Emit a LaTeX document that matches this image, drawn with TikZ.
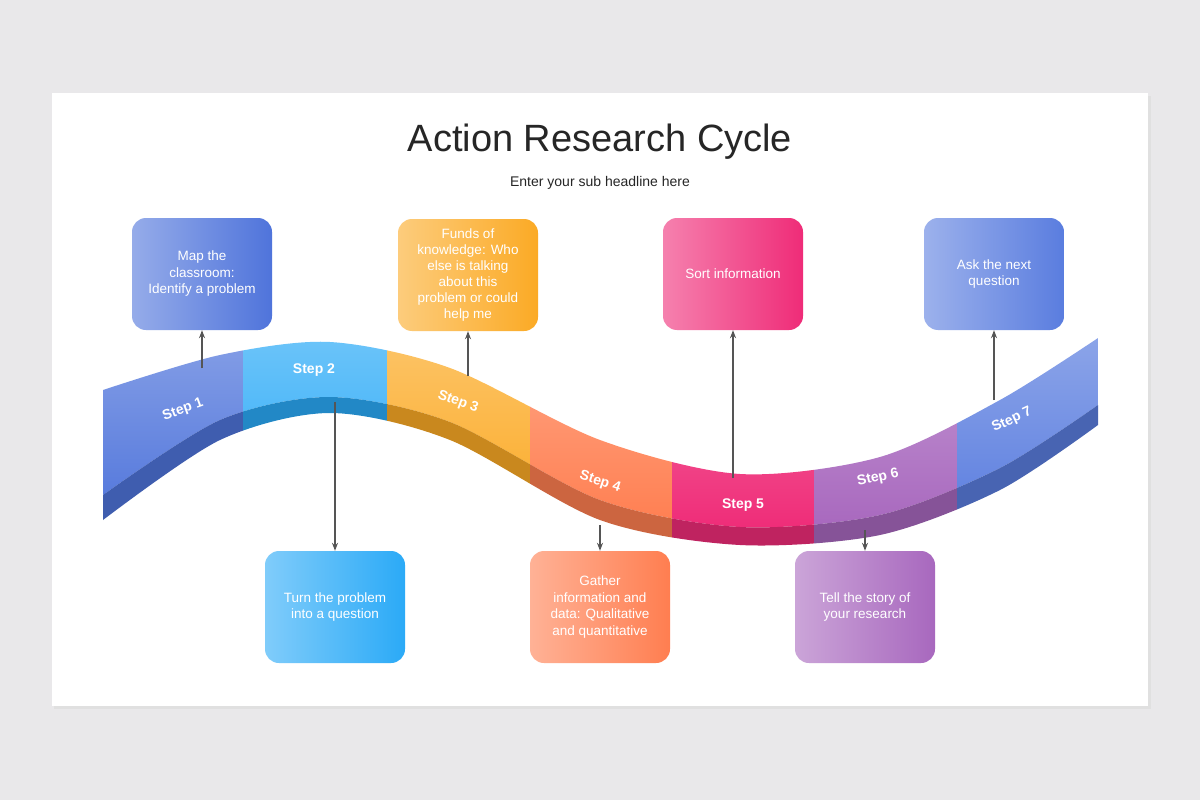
\documentclass[tikz,border=0pt]{standalone}
\usepackage{fontspec}
\setmainfont{Liberation Sans}
\usetikzlibrary{arrows.meta}
\definecolor{bgc}{HTML}{E9E8EA}
\definecolor{ca}{HTML}{4F74DB}
\definecolor{cb}{HTML}{2BAAF7}
\definecolor{cc}{HTML}{FBAA25}
\definecolor{cd}{HTML}{FF7E50}
\definecolor{ce}{HTML}{EF2C78}
\definecolor{cf}{HTML}{A868BE}
\definecolor{cg}{HTML}{5A7DDF}
\definecolor{arr}{HTML}{555555}
\begin{document}
\begin{tikzpicture}[x=1pt,y=-1pt,
  box/.style={rounded corners=14pt,minimum width=140pt,minimum height=112pt,align=center,text=white,font=\fontsize{13.5}{16.5}\selectfont,shading angle=30},
  steplbl/.style={text=white,font=\bfseries\fontsize{14}{16}\selectfont},
  con/.style={arr,line width=1.1pt,-{Stealth[length=8pt,width=6pt]}}]
\useasboundingbox (0,0) rectangle (1200,800);
\fill[bgc] (0,0) rectangle (1200,800);
\fill[black!12] (54,96) rectangle (1151,709);
\fill[white] (52,93) rectangle (1148,706);
\node[font=\fontsize{38}{44}\selectfont,text=black!85] (title) at (600,142) {Action Research Cycle};
\node[font=\fontsize{14}{16}\selectfont,text=black!85] (sub) at (600,183) {Enter your sub headline here};
% ribbon
\foreach \xa/\xb/\c in {103/243/ca,243/387/cb,387/530/cc,530/672/cd,672/814/ce,814/957/cf,957/1098/cg}{
\begin{scope}
\clip (\xa,0) rectangle (\xb,800);
\shade[top color=\c!70!white,bottom color=\c] plot[smooth] coordinates {(103,390) (220,355) (330,342) (450,368) (600,440) (740,474) (880,457) (1000,400) (1098,338)}
 -- plot[smooth] coordinates {(1098,405) (1000,468) (880,515) (740,527) (600,500) (450,422) (330,397) (220,420) (103,495)} -- cycle;
\fill[\c!80!black] plot[smooth] coordinates {(103,495) (220,420) (330,397) (450,422) (600,500) (740,527) (880,515) (1000,468) (1098,405)}
 -- plot[smooth] coordinates {(1098,425) (1000,490) (880,535) (740,545) (600,520) (450,440) (330,413) (220,440) (103,520)} -- cycle;
\end{scope}}
\node[steplbl,rotate=20] (s1) at (183,410) {Step 1};
\node[steplbl] (s2) at (314,370) {Step 2};
\node[steplbl,rotate=-20] (s3) at (458,402) {Step 3};
\node[steplbl,rotate=-18] (s4) at (600,482) {Step 4};
\node[steplbl] (s5) at (743,505) {Step 5};
\node[steplbl,rotate=12] (s6) at (878,478) {Step 6};
\node[steplbl,rotate=25] (s7) at (1012,420) {Step 7};
% boxes
\node[box,left color=ca!60!white,right color=ca] (b1) at (202,274) {Map the\\classroom:\\Identify a problem};
\node[box,left color=cc!60!white,right color=cc,font=\fontsize{13.5}{16}\selectfont] (b3) at (468,275) {Funds of\\knowledge: Who\\else is talking\\about this\\problem or could\\help me};
\node[box,left color=ce!60!white,right color=ce] (b5) at (733,274) {Sort information};
\node[box,left color=cg!60!white,right color=cg] (b7) at (994,274) {Ask the next\\question};
\node[box,left color=cb!60!white,right color=cb] (b2) at (335,607) {Turn the problem\\into a question};
\node[box,left color=cd!60!white,right color=cd] (b4) at (600,607) {Gather\\information and\\data: Qualitative\\and quantitative};
\node[box,left color=cf!60!white,right color=cf] (b6) at (865,607) {Tell the story of\\your research};
% connectors
\coordinate (p1) at (202,368);
\coordinate (p2) at (335,402);
\coordinate (p3) at (468,376);
\coordinate (p4) at (600,525);
\coordinate (p5) at (733,478);
\coordinate (p6) at (865,530);
\coordinate (p7) at (994,400);
\draw[con] (p1) -- (b1.south);
\draw[con] (p2) -- (b2.north);
\draw[con] (p3) -- (b3.south);
\draw[con] (p4) -- (b4.north);
\draw[con] (p5) -- (b5.south);
\draw[con] (p6) -- (b6.north);
\draw[con] (p7) -- (b7.south);
\end{tikzpicture}
\end{document}
